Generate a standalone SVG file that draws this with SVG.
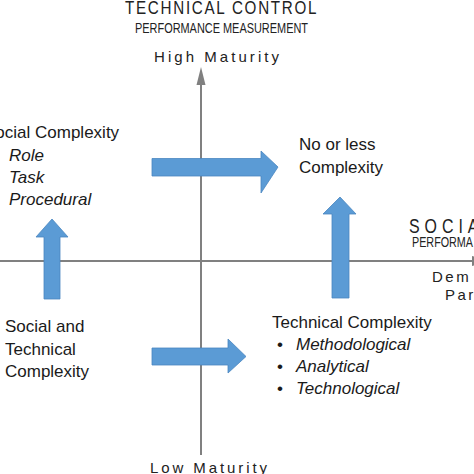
<svg xmlns="http://www.w3.org/2000/svg" width="474" height="474" viewBox="0 0 474 474">
<style>
.t{font-family:"Liberation Sans",Arial,sans-serif;font-size:17px;fill:#1a1a1a}
.i{font-style:italic}
.hdr{font-family:"Liberation Sans",Arial,sans-serif;fill:#222}
.axis{stroke:#808080;stroke-width:2;fill:none}
.ah{fill:#808080}
.blk{fill:#5B9BD5;stroke:#4A86C0;stroke-width:0.8}
</style>
<rect width="474" height="474" fill="#fff"/>
<g id="connectors">
  <line class="axis" x1="201" y1="84" x2="201" y2="455"/>
  <polygon class="ah" points="201,67 196.5,85 205.5,85"/>
  <line class="axis" x1="0" y1="261" x2="474" y2="261"/>
  <polygon class="ah" points="472,256 490,261 472,266"/>
  <polygon class="blk" points="152,158.5 261,158.5 261,151 278,167 261,193 261,176 152,176"/>
  <polygon class="blk" points="152,348 228,348 228,339 246,356.5 228,373 228,365 152,365"/>
  <polygon class="blk" points="332,298 332,214 323,214 340,197 356,214 349,214 349,298"/>
  <polygon class="blk" points="44,299 44,237 36,237 52,219 68,237 60,237 60,299"/>
</g>
<g id="technical-control">
  <text class="hdr" transform="translate(125,14) scale(0.8,1)" x="0" y="0" font-size="19" letter-spacing="2.15">TECHNICAL CONTROL</text>
  <text class="hdr" x="135" y="32.5" font-size="15" textLength="173" lengthAdjust="spacingAndGlyphs">PERFORMANCE MEASUREMENT</text>
</g>
<g id="high-maturity">
  <text class="hdr" x="154" y="62" font-size="15" textLength="125" lengthAdjust="spacing">High Maturity</text>
</g>
<g id="low-maturity">
  <text class="hdr" x="150" y="472.5" font-size="15" textLength="117" lengthAdjust="spacing">Low Maturity</text>
</g>
<g id="social-control">
  <text class="hdr" transform="translate(409,233) scale(0.76,1)" x="0" y="0" font-size="21" letter-spacing="6.5">SOCIA</text>
  <text class="hdr" x="412" y="246.5" font-size="15" textLength="61" lengthAdjust="spacingAndGlyphs">PERFORMA</text>
  <text class="hdr" x="432" y="281.5" font-size="15" letter-spacing="2.5">Dem</text>
  <text class="hdr" x="445" y="300" font-size="15" letter-spacing="2.5">Par</text>
</g>
<g id="social-complexity">
  <text class="t" x="-16" y="138">Social Complexity</text>
  <text class="t i" x="9" y="160.5">Role</text>
  <text class="t i" x="9" y="183">Task</text>
  <text class="t i" x="9" y="205">Procedural</text>
</g>
<g id="no-complexity">
  <text class="t" x="299" y="149.5">No or less</text>
  <text class="t" x="299" y="172.5">Complexity</text>
</g>
<g id="social-technical-complexity">
  <text class="t" x="5" y="332">Social and</text>
  <text class="t" x="5" y="354.5">Technical</text>
  <text class="t" x="5" y="377">Complexity</text>
</g>
<g id="technical-complexity">
  <text class="t" x="272" y="327.5">Technical Complexity</text>
  <text class="t" x="277" y="349.5">•</text>
  <text class="t i" x="296" y="349.5">Methodological</text>
  <text class="t" x="277" y="371.5">•</text>
  <text class="t i" x="296" y="371.5">Analytical</text>
  <text class="t" x="277" y="393.5">•</text>
  <text class="t i" x="296" y="393.5">Technological</text>
</g>
</svg>
